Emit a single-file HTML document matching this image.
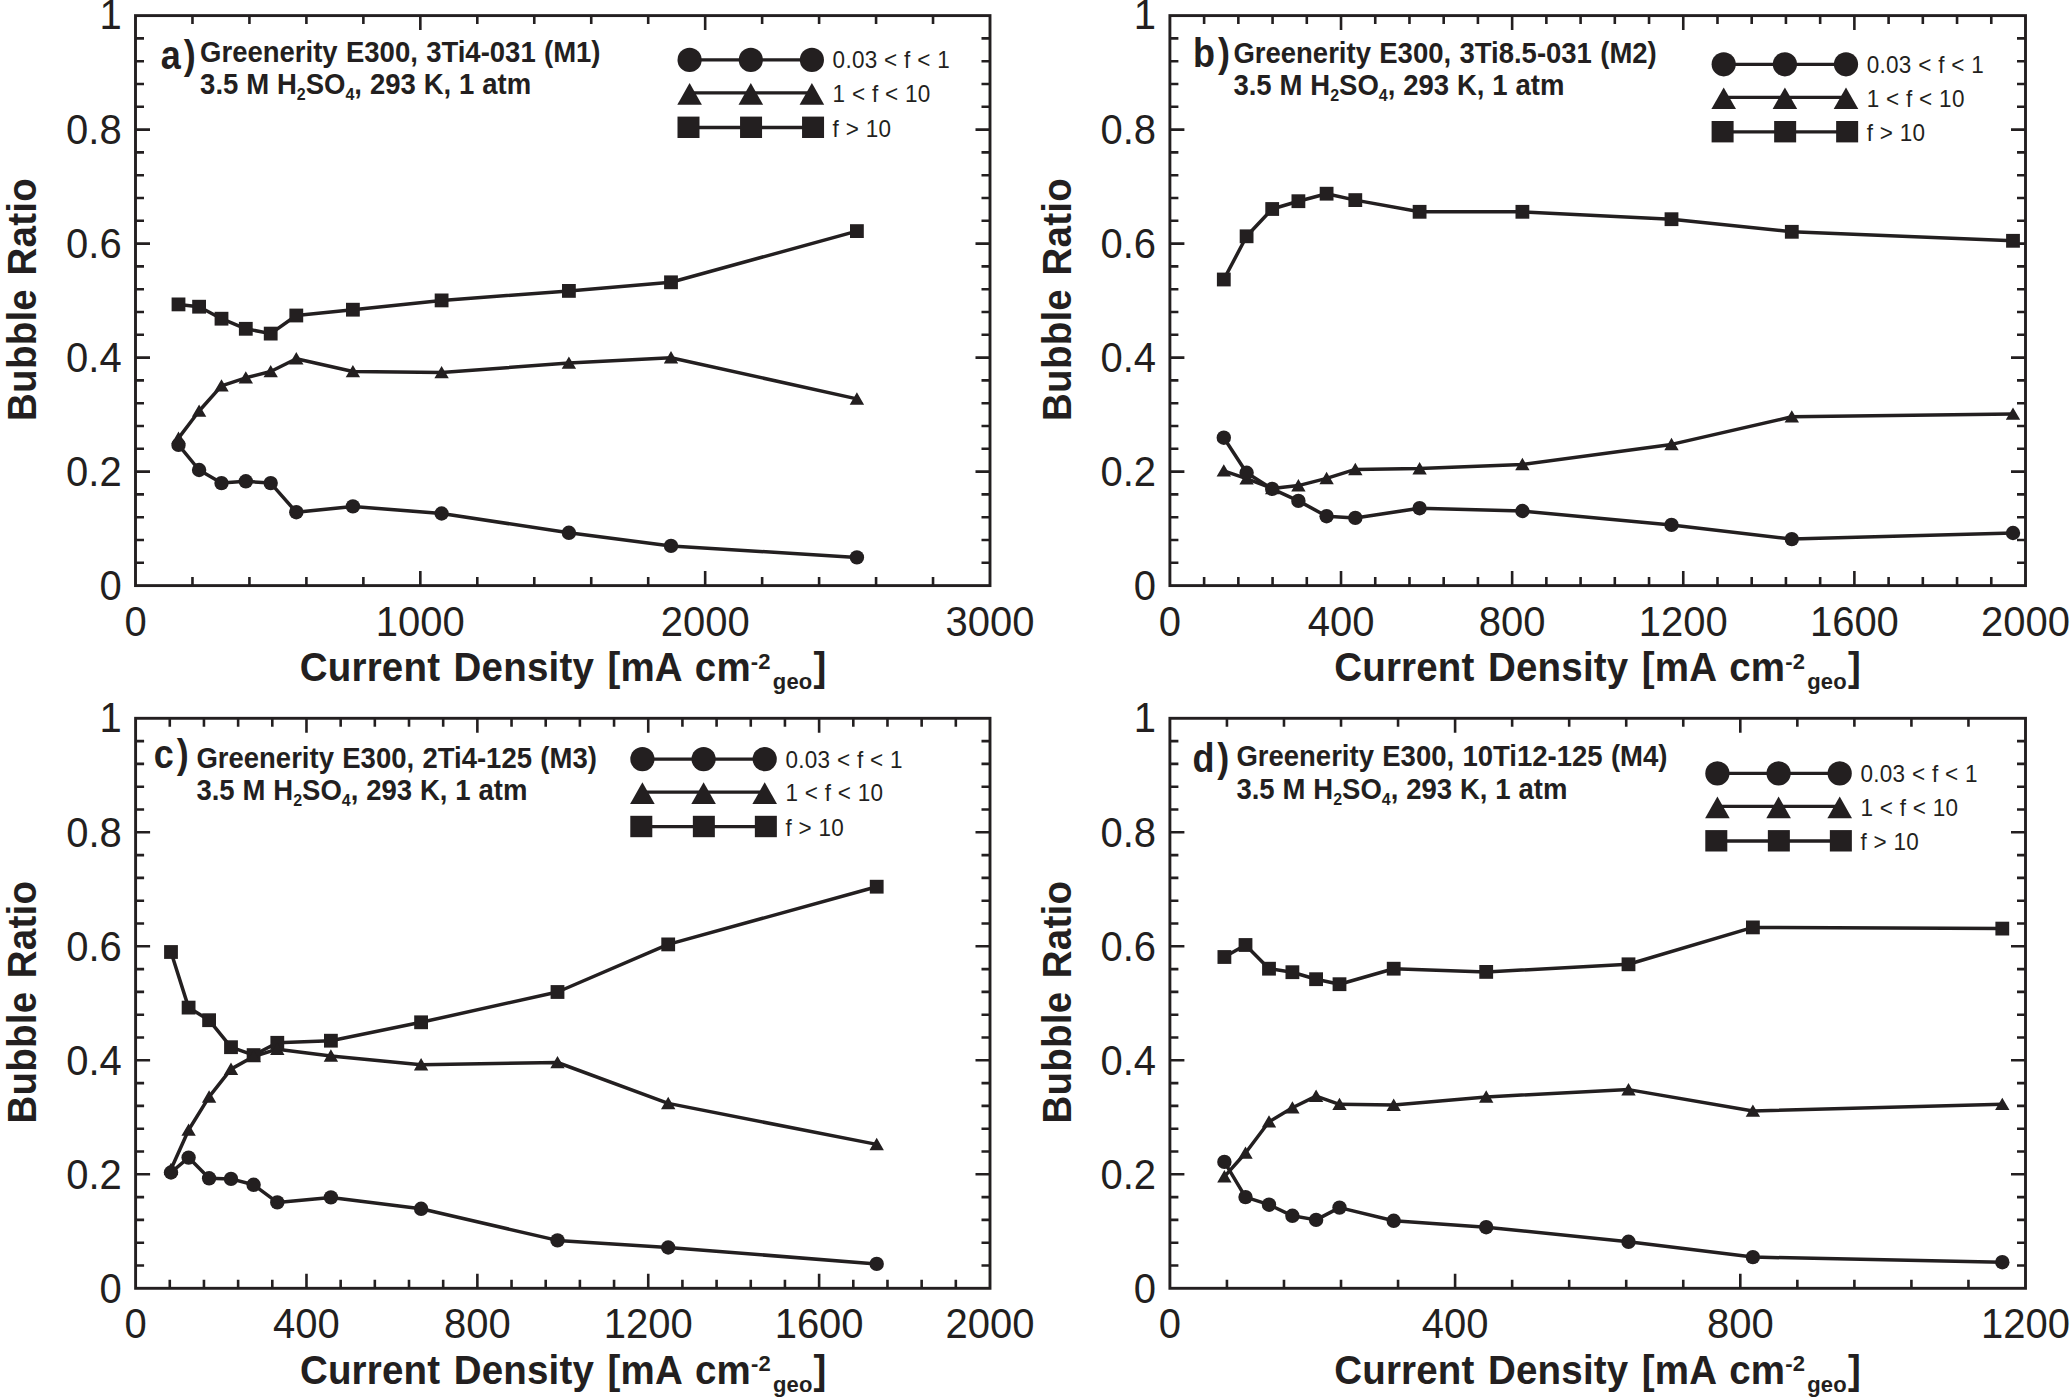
<!DOCTYPE html>
<html lang="en">
<head>
<meta charset="utf-8">
<title>Bubble Ratio vs Current Density</title>
<style>
html,body{margin:0;padding:0;background:#fff;}
body{width:2070px;height:1400px;overflow:hidden;}
svg{display:block;}
svg text{font-family:'Liberation Sans', Arial, Helvetica, sans-serif;fill:#231f20;}
</style>
</head>
<body>
<svg width="2070" height="1400" viewBox="0 0 2070 1400" fill="#231f20">
<rect x="0" y="0" width="2070" height="1400" fill="#ffffff"/>
<g id="plot-a">
<path d="M135.5 562.8h8.5M990 562.8h-8.5M135.5 540h8.5M990 540h-8.5M135.5 517.2h8.5M990 517.2h-8.5M135.5 494.4h8.5M990 494.4h-8.5M135.5 471.6h14.5M990 471.6h-14.5M135.5 448.8h8.5M990 448.8h-8.5M135.5 426h8.5M990 426h-8.5M135.5 403.2h8.5M990 403.2h-8.5M135.5 380.4h8.5M990 380.4h-8.5M135.5 357.6h14.5M990 357.6h-14.5M135.5 334.8h8.5M990 334.8h-8.5M135.5 312h8.5M990 312h-8.5M135.5 289.2h8.5M990 289.2h-8.5M135.5 266.4h8.5M990 266.4h-8.5M135.5 243.6h14.5M990 243.6h-14.5M135.5 220.8h8.5M990 220.8h-8.5M135.5 198h8.5M990 198h-8.5M135.5 175.2h8.5M990 175.2h-8.5M135.5 152.4h8.5M990 152.4h-8.5M135.5 129.6h14.5M990 129.6h-14.5M135.5 106.8h8.5M990 106.8h-8.5M135.5 84h8.5M990 84h-8.5M135.5 61.2h8.5M990 61.2h-8.5M135.5 38.4h8.5M990 38.4h-8.5M192.47 585.6v-8.5M192.47 15.6v8.5M249.43 585.6v-8.5M249.43 15.6v8.5M306.4 585.6v-8.5M306.4 15.6v8.5M363.37 585.6v-8.5M363.37 15.6v8.5M420.33 585.6v-14.5M420.33 15.6v14.5M477.3 585.6v-8.5M477.3 15.6v8.5M534.27 585.6v-8.5M534.27 15.6v8.5M591.23 585.6v-8.5M591.23 15.6v8.5M648.2 585.6v-8.5M648.2 15.6v8.5M705.17 585.6v-14.5M705.17 15.6v14.5M762.13 585.6v-8.5M762.13 15.6v8.5M819.1 585.6v-8.5M819.1 15.6v8.5M876.07 585.6v-8.5M876.07 15.6v8.5M933.03 585.6v-8.5M933.03 15.6v8.5" fill="none" stroke="#231f20" stroke-width="2.6"/>
<rect x="135.5" y="15.6" width="854.5" height="570" fill="none" stroke="#231f20" stroke-width="2.9"/>
<g font-size="40" text-anchor="end">
<text transform="translate(121.7 599.9) scale(1 1.04)">0</text>
<text transform="translate(121.7 485.9) scale(1 1.04)">0.2</text>
<text transform="translate(121.7 371.9) scale(1 1.04)">0.4</text>
<text transform="translate(121.7 257.9) scale(1 1.04)">0.6</text>
<text transform="translate(121.7 143.9) scale(1 1.04)">0.8</text>
<text transform="translate(121.7 29.4) scale(1 1.04)">1</text>
</g>
<g font-size="40" text-anchor="middle">
<text transform="translate(135.5 635.7) scale(1 1.04)">0</text>
<text transform="translate(420.33 635.7) scale(1 1.04)">1000</text>
<text transform="translate(705.17 635.7) scale(1 1.04)">2000</text>
<text transform="translate(990 635.7) scale(1 1.04)">3000</text>
</g>
<text transform="translate(299.8 681.3) scale(1 1.04)" font-size="38.5" font-weight="bold" letter-spacing="0.2" word-spacing="2.5">Current Density [mA cm<tspan font-size="22" dy="-12.31">-2</tspan><tspan font-size="22" dy="20" dx="2">geo</tspan><tspan dy="-7.69" dx="1">]</tspan></text>
<text transform="translate(36.2 299.5) rotate(-90) scale(1 1.04)" font-size="38.5" font-weight="bold" text-anchor="middle" letter-spacing="0.25" word-spacing="2.5">Bubble Ratio</text>
<text transform="translate(160.8 69.2) scale(0.9 1)" font-size="40" font-weight="bold">a<tspan dx="3.3">)</tspan></text>
<g font-size="27.5" font-weight="bold">
<text transform="translate(200.1 62.3) scale(1 1.04)" word-spacing="0.7">Greenerity E300, 3Ti4-031 (M1)</text>
<text transform="translate(200.1 94.1) scale(1 1.04)" word-spacing="0.25">3.5 M H<tspan font-size="16" dy="5.77">2</tspan><tspan dy="-5.77">SO</tspan><tspan font-size="16" dy="5.77">4</tspan><tspan dy="-5.77">, 293 K, 1 atm</tspan></text>
</g>
<g id="legend-a">
<path d="M689.6 59.9H811.9M689.6 92.9H811.9M689.6 127.5H811.9" fill="none" stroke="#231f20" stroke-width="3.3"/>
<circle cx="689.6" cy="59.9" r="12.1"/>
<path d="M689.6 83.1L701.9 104.7L677.3 104.7Z"/>
<rect x="677.5" y="116.6" width="22" height="21.4"/>
<circle cx="750.8" cy="59.9" r="12.1"/>
<path d="M750.8 83.1L763.1 104.7L738.5 104.7Z"/>
<rect x="740.05" y="116.6" width="22" height="21.4"/>
<circle cx="811.9" cy="59.9" r="12.1"/>
<path d="M811.9 83.1L824.2 104.7L799.6 104.7Z"/>
<rect x="802.05" y="116.6" width="22" height="21.4"/>
<g font-size="22.5" letter-spacing="0.3">
<text transform="translate(832.6 68.4) scale(1 1.04)">0.03 &lt; f &lt; 1</text>
<text transform="translate(832.6 102.1) scale(1 1.04)">1 &lt; f &lt; 10</text>
<text transform="translate(832.6 136.5) scale(1 1.04)">f &gt; 10</text>
</g></g>
<polyline points="178.5,304.4 199.1,306.7 221.5,318.7 245.8,328.8 270.7,333.6 296.3,315.5 352.9,309.7 441.6,300.4 568.9,290.9 671,282.3 856.9,231.1" fill="none" stroke="#231f20" stroke-width="3.5" stroke-linejoin="round"/>
<polyline points="178.5,438.1 199.1,411 221.5,385.8 245.8,377.8 270.7,371.5 296.3,358.7 352.9,371.5 441.6,372.5 568.9,363 671,357.7 856.9,398.9" fill="none" stroke="#231f20" stroke-width="3.5" stroke-linejoin="round"/>
<polyline points="178.5,444.9 199.1,470 221.5,483.1 245.8,481.3 270.7,483.1 296.3,512.2 352.9,506.4 441.6,513.5 568.9,532.8 671,545.9 856.9,557.4" fill="none" stroke="#231f20" stroke-width="3.5" stroke-linejoin="round"/>
<rect x="171.6" y="297.5" width="13.8" height="13.8"/>
<rect x="192.2" y="299.8" width="13.8" height="13.8"/>
<rect x="214.6" y="311.8" width="13.8" height="13.8"/>
<rect x="238.9" y="321.9" width="13.8" height="13.8"/>
<rect x="263.8" y="326.7" width="13.8" height="13.8"/>
<rect x="289.4" y="308.6" width="13.8" height="13.8"/>
<rect x="346" y="302.8" width="13.8" height="13.8"/>
<rect x="434.7" y="293.5" width="13.8" height="13.8"/>
<rect x="562" y="284" width="13.8" height="13.8"/>
<rect x="664.1" y="275.4" width="13.8" height="13.8"/>
<rect x="850" y="224.2" width="13.8" height="13.8"/>
<path d="M178.5 431.5L185.7 443.9L171.3 443.9ZM199.1 404.4L206.3 416.8L191.9 416.8ZM221.5 379.2L228.7 391.6L214.3 391.6ZM245.8 371.2L253 383.6L238.6 383.6ZM270.7 364.9L277.9 377.3L263.5 377.3ZM296.3 352.1L303.5 364.5L289.1 364.5ZM352.9 364.9L360.1 377.3L345.7 377.3ZM441.6 365.9L448.8 378.3L434.4 378.3ZM568.9 356.4L576.1 368.8L561.7 368.8ZM671 351.1L678.2 363.5L663.8 363.5ZM856.9 392.3L864.1 404.7L849.7 404.7Z"/>
<circle cx="178.5" cy="444.9" r="7.2"/>
<circle cx="199.1" cy="470" r="7.2"/>
<circle cx="221.5" cy="483.1" r="7.2"/>
<circle cx="245.8" cy="481.3" r="7.2"/>
<circle cx="270.7" cy="483.1" r="7.2"/>
<circle cx="296.3" cy="512.2" r="7.2"/>
<circle cx="352.9" cy="506.4" r="7.2"/>
<circle cx="441.6" cy="513.5" r="7.2"/>
<circle cx="568.9" cy="532.8" r="7.2"/>
<circle cx="671" cy="545.9" r="7.2"/>
<circle cx="856.9" cy="557.4" r="7.2"/>
</g>
<g id="plot-b">
<path d="M1169.9 562.8h8.5M2025.5 562.8h-8.5M1169.9 540h8.5M2025.5 540h-8.5M1169.9 517.2h8.5M2025.5 517.2h-8.5M1169.9 494.4h8.5M2025.5 494.4h-8.5M1169.9 471.6h14.5M2025.5 471.6h-14.5M1169.9 448.8h8.5M2025.5 448.8h-8.5M1169.9 426h8.5M2025.5 426h-8.5M1169.9 403.2h8.5M2025.5 403.2h-8.5M1169.9 380.4h8.5M2025.5 380.4h-8.5M1169.9 357.6h14.5M2025.5 357.6h-14.5M1169.9 334.8h8.5M2025.5 334.8h-8.5M1169.9 312h8.5M2025.5 312h-8.5M1169.9 289.2h8.5M2025.5 289.2h-8.5M1169.9 266.4h8.5M2025.5 266.4h-8.5M1169.9 243.6h14.5M2025.5 243.6h-14.5M1169.9 220.8h8.5M2025.5 220.8h-8.5M1169.9 198h8.5M2025.5 198h-8.5M1169.9 175.2h8.5M2025.5 175.2h-8.5M1169.9 152.4h8.5M2025.5 152.4h-8.5M1169.9 129.6h14.5M2025.5 129.6h-14.5M1169.9 106.8h8.5M2025.5 106.8h-8.5M1169.9 84h8.5M2025.5 84h-8.5M1169.9 61.2h8.5M2025.5 61.2h-8.5M1169.9 38.4h8.5M2025.5 38.4h-8.5M1204.12 585.6v-8.5M1204.12 15.6v8.5M1238.35 585.6v-8.5M1238.35 15.6v8.5M1272.57 585.6v-8.5M1272.57 15.6v8.5M1306.8 585.6v-8.5M1306.8 15.6v8.5M1341.02 585.6v-14.5M1341.02 15.6v14.5M1375.24 585.6v-8.5M1375.24 15.6v8.5M1409.47 585.6v-8.5M1409.47 15.6v8.5M1443.69 585.6v-8.5M1443.69 15.6v8.5M1477.92 585.6v-8.5M1477.92 15.6v8.5M1512.14 585.6v-14.5M1512.14 15.6v14.5M1546.36 585.6v-8.5M1546.36 15.6v8.5M1580.59 585.6v-8.5M1580.59 15.6v8.5M1614.81 585.6v-8.5M1614.81 15.6v8.5M1649.04 585.6v-8.5M1649.04 15.6v8.5M1683.26 585.6v-14.5M1683.26 15.6v14.5M1717.48 585.6v-8.5M1717.48 15.6v8.5M1751.71 585.6v-8.5M1751.71 15.6v8.5M1785.93 585.6v-8.5M1785.93 15.6v8.5M1820.16 585.6v-8.5M1820.16 15.6v8.5M1854.38 585.6v-14.5M1854.38 15.6v14.5M1888.6 585.6v-8.5M1888.6 15.6v8.5M1922.83 585.6v-8.5M1922.83 15.6v8.5M1957.05 585.6v-8.5M1957.05 15.6v8.5M1991.28 585.6v-8.5M1991.28 15.6v8.5" fill="none" stroke="#231f20" stroke-width="2.6"/>
<rect x="1169.9" y="15.6" width="855.6" height="570" fill="none" stroke="#231f20" stroke-width="2.9"/>
<g font-size="40" text-anchor="end">
<text transform="translate(1156.1 599.9) scale(1 1.04)">0</text>
<text transform="translate(1156.1 485.9) scale(1 1.04)">0.2</text>
<text transform="translate(1156.1 371.9) scale(1 1.04)">0.4</text>
<text transform="translate(1156.1 257.9) scale(1 1.04)">0.6</text>
<text transform="translate(1156.1 143.9) scale(1 1.04)">0.8</text>
<text transform="translate(1156.1 29.4) scale(1 1.04)">1</text>
</g>
<g font-size="40" text-anchor="middle">
<text transform="translate(1169.9 635.7) scale(1 1.04)">0</text>
<text transform="translate(1341.02 635.7) scale(1 1.04)">400</text>
<text transform="translate(1512.14 635.7) scale(1 1.04)">800</text>
<text transform="translate(1683.26 635.7) scale(1 1.04)">1200</text>
<text transform="translate(1854.38 635.7) scale(1 1.04)">1600</text>
<text transform="translate(2025.5 635.7) scale(1 1.04)">2000</text>
</g>
<text transform="translate(1334.2 681.3) scale(1 1.04)" font-size="38.5" font-weight="bold" letter-spacing="0.2" word-spacing="2.5">Current Density [mA cm<tspan font-size="22" dy="-12.31">-2</tspan><tspan font-size="22" dy="20" dx="2">geo</tspan><tspan dy="-7.69" dx="1">]</tspan></text>
<text transform="translate(1070.6 299.5) rotate(-90) scale(1 1.04)" font-size="38.5" font-weight="bold" text-anchor="middle" letter-spacing="0.25" word-spacing="2.5">Bubble Ratio</text>
<text transform="translate(1193 66.6) scale(0.9 1)" font-size="40" font-weight="bold">b<tspan dx="3.3">)</tspan></text>
<g font-size="27.5" font-weight="bold">
<text transform="translate(1233.4 62.5) scale(1 1.04)" word-spacing="0.7">Greenerity E300, 3Ti8.5-031 (M2)</text>
<text transform="translate(1233.4 94.8) scale(1 1.04)" word-spacing="0.25">3.5 M H<tspan font-size="16" dy="5.77">2</tspan><tspan dy="-5.77">SO</tspan><tspan font-size="16" dy="5.77">4</tspan><tspan dy="-5.77">, 293 K, 1 atm</tspan></text>
</g>
<g id="legend-b">
<path d="M1723.7 64.3H1846M1723.7 97.3H1846M1723.7 131.9H1846" fill="none" stroke="#231f20" stroke-width="3.3"/>
<circle cx="1723.7" cy="64.3" r="12.1"/>
<path d="M1723.7 87.5L1736 109.1L1711.4 109.1Z"/>
<rect x="1711.6" y="121" width="22" height="21.4"/>
<circle cx="1784.9" cy="64.3" r="12.1"/>
<path d="M1784.9 87.5L1797.2 109.1L1772.6 109.1Z"/>
<rect x="1774.15" y="121" width="22" height="21.4"/>
<circle cx="1846" cy="64.3" r="12.1"/>
<path d="M1846 87.5L1858.3 109.1L1833.7 109.1Z"/>
<rect x="1836.15" y="121" width="22" height="21.4"/>
<g font-size="22.5" letter-spacing="0.3">
<text transform="translate(1866.7 72.8) scale(1 1.04)">0.03 &lt; f &lt; 1</text>
<text transform="translate(1866.7 106.5) scale(1 1.04)">1 &lt; f &lt; 10</text>
<text transform="translate(1866.7 140.9) scale(1 1.04)">f &gt; 10</text>
</g></g>
<polyline points="1223.8,279.5 1246.6,236.3 1272.2,209 1298.4,201.2 1326.6,193.7 1355.3,200.1 1419.6,211.8 1522.4,211.8 1671.5,219.2 1791.8,231.8 2013,240.8" fill="none" stroke="#231f20" stroke-width="3.5" stroke-linejoin="round"/>
<polyline points="1223.8,470.8 1246.6,478.6 1272.2,488.4 1298.4,485.6 1326.6,478.4 1355.3,469.4 1419.6,468.6 1522.4,464.4 1671.5,444.4 1791.8,416.8 2013,414" fill="none" stroke="#231f20" stroke-width="3.5" stroke-linejoin="round"/>
<polyline points="1223.8,437.7 1246.6,472.8 1272.2,488.9 1298.4,500.9 1326.6,516.2 1355.3,517.9 1419.6,508.2 1522.4,511 1671.5,524.9 1791.8,539.1 2013,533" fill="none" stroke="#231f20" stroke-width="3.5" stroke-linejoin="round"/>
<rect x="1216.9" y="272.6" width="13.8" height="13.8"/>
<rect x="1239.7" y="229.4" width="13.8" height="13.8"/>
<rect x="1265.3" y="202.1" width="13.8" height="13.8"/>
<rect x="1291.5" y="194.3" width="13.8" height="13.8"/>
<rect x="1319.7" y="186.8" width="13.8" height="13.8"/>
<rect x="1348.4" y="193.2" width="13.8" height="13.8"/>
<rect x="1412.7" y="204.9" width="13.8" height="13.8"/>
<rect x="1515.5" y="204.9" width="13.8" height="13.8"/>
<rect x="1664.6" y="212.3" width="13.8" height="13.8"/>
<rect x="1784.9" y="224.9" width="13.8" height="13.8"/>
<rect x="2006.1" y="233.9" width="13.8" height="13.8"/>
<path d="M1223.8 464.2L1231 476.6L1216.6 476.6ZM1246.6 472L1253.8 484.4L1239.4 484.4ZM1272.2 481.8L1279.4 494.2L1265 494.2ZM1298.4 479L1305.6 491.4L1291.2 491.4ZM1326.6 471.8L1333.8 484.2L1319.4 484.2ZM1355.3 462.8L1362.5 475.2L1348.1 475.2ZM1419.6 462L1426.8 474.4L1412.4 474.4ZM1522.4 457.8L1529.6 470.2L1515.2 470.2ZM1671.5 437.8L1678.7 450.2L1664.3 450.2ZM1791.8 410.2L1799 422.6L1784.6 422.6ZM2013 407.4L2020.2 419.8L2005.8 419.8Z"/>
<circle cx="1223.8" cy="437.7" r="7.2"/>
<circle cx="1246.6" cy="472.8" r="7.2"/>
<circle cx="1272.2" cy="488.9" r="7.2"/>
<circle cx="1298.4" cy="500.9" r="7.2"/>
<circle cx="1326.6" cy="516.2" r="7.2"/>
<circle cx="1355.3" cy="517.9" r="7.2"/>
<circle cx="1419.6" cy="508.2" r="7.2"/>
<circle cx="1522.4" cy="511" r="7.2"/>
<circle cx="1671.5" cy="524.9" r="7.2"/>
<circle cx="1791.8" cy="539.1" r="7.2"/>
<circle cx="2013" cy="533" r="7.2"/>
</g>
<g id="plot-c">
<path d="M135.6 1265.5h8.5M990 1265.5h-8.5M135.6 1242.7h8.5M990 1242.7h-8.5M135.6 1219.9h8.5M990 1219.9h-8.5M135.6 1197.1h8.5M990 1197.1h-8.5M135.6 1174.3h14.5M990 1174.3h-14.5M135.6 1151.5h8.5M990 1151.5h-8.5M135.6 1128.7h8.5M990 1128.7h-8.5M135.6 1105.9h8.5M990 1105.9h-8.5M135.6 1083.1h8.5M990 1083.1h-8.5M135.6 1060.3h14.5M990 1060.3h-14.5M135.6 1037.5h8.5M990 1037.5h-8.5M135.6 1014.7h8.5M990 1014.7h-8.5M135.6 991.9h8.5M990 991.9h-8.5M135.6 969.1h8.5M990 969.1h-8.5M135.6 946.3h14.5M990 946.3h-14.5M135.6 923.5h8.5M990 923.5h-8.5M135.6 900.7h8.5M990 900.7h-8.5M135.6 877.9h8.5M990 877.9h-8.5M135.6 855.1h8.5M990 855.1h-8.5M135.6 832.3h14.5M990 832.3h-14.5M135.6 809.5h8.5M990 809.5h-8.5M135.6 786.7h8.5M990 786.7h-8.5M135.6 763.9h8.5M990 763.9h-8.5M135.6 741.1h8.5M990 741.1h-8.5M169.78 1288.3v-8.5M169.78 718.3v8.5M203.95 1288.3v-8.5M203.95 718.3v8.5M238.13 1288.3v-8.5M238.13 718.3v8.5M272.3 1288.3v-8.5M272.3 718.3v8.5M306.48 1288.3v-14.5M306.48 718.3v14.5M340.66 1288.3v-8.5M340.66 718.3v8.5M374.83 1288.3v-8.5M374.83 718.3v8.5M409.01 1288.3v-8.5M409.01 718.3v8.5M443.18 1288.3v-8.5M443.18 718.3v8.5M477.36 1288.3v-14.5M477.36 718.3v14.5M511.54 1288.3v-8.5M511.54 718.3v8.5M545.71 1288.3v-8.5M545.71 718.3v8.5M579.89 1288.3v-8.5M579.89 718.3v8.5M614.06 1288.3v-8.5M614.06 718.3v8.5M648.24 1288.3v-14.5M648.24 718.3v14.5M682.42 1288.3v-8.5M682.42 718.3v8.5M716.59 1288.3v-8.5M716.59 718.3v8.5M750.77 1288.3v-8.5M750.77 718.3v8.5M784.94 1288.3v-8.5M784.94 718.3v8.5M819.12 1288.3v-14.5M819.12 718.3v14.5M853.3 1288.3v-8.5M853.3 718.3v8.5M887.47 1288.3v-8.5M887.47 718.3v8.5M921.65 1288.3v-8.5M921.65 718.3v8.5M955.82 1288.3v-8.5M955.82 718.3v8.5" fill="none" stroke="#231f20" stroke-width="2.6"/>
<rect x="135.6" y="718.3" width="854.4" height="570" fill="none" stroke="#231f20" stroke-width="2.9"/>
<g font-size="40" text-anchor="end">
<text transform="translate(121.8 1302.6) scale(1 1.04)">0</text>
<text transform="translate(121.8 1188.6) scale(1 1.04)">0.2</text>
<text transform="translate(121.8 1074.6) scale(1 1.04)">0.4</text>
<text transform="translate(121.8 960.6) scale(1 1.04)">0.6</text>
<text transform="translate(121.8 846.6) scale(1 1.04)">0.8</text>
<text transform="translate(121.8 732.1) scale(1 1.04)">1</text>
</g>
<g font-size="40" text-anchor="middle">
<text transform="translate(135.6 1338.4) scale(1 1.04)">0</text>
<text transform="translate(306.48 1338.4) scale(1 1.04)">400</text>
<text transform="translate(477.36 1338.4) scale(1 1.04)">800</text>
<text transform="translate(648.24 1338.4) scale(1 1.04)">1200</text>
<text transform="translate(819.12 1338.4) scale(1 1.04)">1600</text>
<text transform="translate(990 1338.4) scale(1 1.04)">2000</text>
</g>
<text transform="translate(299.9 1384) scale(1 1.04)" font-size="38.5" font-weight="bold" letter-spacing="0.2" word-spacing="2.5">Current Density [mA cm<tspan font-size="22" dy="-12.31">-2</tspan><tspan font-size="22" dy="20" dx="2">geo</tspan><tspan dy="-7.69" dx="1">]</tspan></text>
<text transform="translate(36.3 1002.2) rotate(-90) scale(1 1.04)" font-size="38.5" font-weight="bold" text-anchor="middle" letter-spacing="0.25" word-spacing="2.5">Bubble Ratio</text>
<text transform="translate(153.8 768) scale(0.9 1)" font-size="40" font-weight="bold">c<tspan dx="3.3">)</tspan></text>
<g font-size="27.5" font-weight="bold">
<text transform="translate(196.4 768.1) scale(1 1.04)" word-spacing="0.7">Greenerity E300, 2Ti4-125 (M3)</text>
<text transform="translate(196.4 800) scale(1 1.04)" word-spacing="0.25">3.5 M H<tspan font-size="16" dy="5.77">2</tspan><tspan dy="-5.77">SO</tspan><tspan font-size="16" dy="5.77">4</tspan><tspan dy="-5.77">, 293 K, 1 atm</tspan></text>
</g>
<g id="legend-c">
<path d="M642.4 759.1H764.7M642.4 792.1H764.7M642.4 826.7H764.7" fill="none" stroke="#231f20" stroke-width="3.3"/>
<circle cx="642.4" cy="759.1" r="12.1"/>
<path d="M642.4 782.3L654.7 803.9L630.1 803.9Z"/>
<rect x="630.3" y="815.8" width="22" height="21.4"/>
<circle cx="703.6" cy="759.1" r="12.1"/>
<path d="M703.6 782.3L715.9 803.9L691.3 803.9Z"/>
<rect x="692.85" y="815.8" width="22" height="21.4"/>
<circle cx="764.7" cy="759.1" r="12.1"/>
<path d="M764.7 782.3L777 803.9L752.4 803.9Z"/>
<rect x="754.85" y="815.8" width="22" height="21.4"/>
<g font-size="22.5" letter-spacing="0.3">
<text transform="translate(785.4 767.6) scale(1 1.04)">0.03 &lt; f &lt; 1</text>
<text transform="translate(785.4 801.3) scale(1 1.04)">1 &lt; f &lt; 10</text>
<text transform="translate(785.4 835.7) scale(1 1.04)">f &gt; 10</text>
</g></g>
<polyline points="171,952 188.6,1007.6 209.1,1020.2 231,1047.2 253.6,1055.1 277.3,1042.8 330.9,1040.7 421.1,1022.3 557.5,992 668.2,944.4 876.7,886.7" fill="none" stroke="#231f20" stroke-width="3.5" stroke-linejoin="round"/>
<polyline points="171,1169.3 188.6,1130 209.1,1096.9 231,1069.1 253.6,1056.5 277.3,1049.2 330.9,1055.9 421.1,1064.7 557.5,1062.5 668.2,1103.4 876.7,1144.4" fill="none" stroke="#231f20" stroke-width="3.5" stroke-linejoin="round"/>
<polyline points="171,1172.5 188.6,1157.6 209.1,1178.3 231,1178.9 253.6,1184.8 277.3,1202.4 330.9,1197.4 421.1,1208.8 557.5,1240.4 668.2,1247.5 876.7,1263.9" fill="none" stroke="#231f20" stroke-width="3.5" stroke-linejoin="round"/>
<rect x="164.1" y="945.1" width="13.8" height="13.8"/>
<rect x="181.7" y="1000.7" width="13.8" height="13.8"/>
<rect x="202.2" y="1013.3" width="13.8" height="13.8"/>
<rect x="224.1" y="1040.3" width="13.8" height="13.8"/>
<rect x="246.7" y="1048.2" width="13.8" height="13.8"/>
<rect x="270.4" y="1035.9" width="13.8" height="13.8"/>
<rect x="324" y="1033.8" width="13.8" height="13.8"/>
<rect x="414.2" y="1015.4" width="13.8" height="13.8"/>
<rect x="550.6" y="985.1" width="13.8" height="13.8"/>
<rect x="661.3" y="937.5" width="13.8" height="13.8"/>
<rect x="869.8" y="879.8" width="13.8" height="13.8"/>
<path d="M171 1162.7L178.2 1175.1L163.8 1175.1ZM188.6 1123.4L195.8 1135.8L181.4 1135.8ZM209.1 1090.3L216.3 1102.7L201.9 1102.7ZM231 1062.5L238.2 1074.9L223.8 1074.9ZM253.6 1049.9L260.8 1062.3L246.4 1062.3ZM277.3 1042.6L284.5 1055L270.1 1055ZM330.9 1049.3L338.1 1061.7L323.7 1061.7ZM421.1 1058.1L428.3 1070.5L413.9 1070.5ZM557.5 1055.9L564.7 1068.3L550.3 1068.3ZM668.2 1096.8L675.4 1109.2L661 1109.2ZM876.7 1137.8L883.9 1150.2L869.5 1150.2Z"/>
<circle cx="171" cy="1172.5" r="7.2"/>
<circle cx="188.6" cy="1157.6" r="7.2"/>
<circle cx="209.1" cy="1178.3" r="7.2"/>
<circle cx="231" cy="1178.9" r="7.2"/>
<circle cx="253.6" cy="1184.8" r="7.2"/>
<circle cx="277.3" cy="1202.4" r="7.2"/>
<circle cx="330.9" cy="1197.4" r="7.2"/>
<circle cx="421.1" cy="1208.8" r="7.2"/>
<circle cx="557.5" cy="1240.4" r="7.2"/>
<circle cx="668.2" cy="1247.5" r="7.2"/>
<circle cx="876.7" cy="1263.9" r="7.2"/>
</g>
<g id="plot-d">
<path d="M1169.9 1265.5h8.5M2025.5 1265.5h-8.5M1169.9 1242.7h8.5M2025.5 1242.7h-8.5M1169.9 1219.9h8.5M2025.5 1219.9h-8.5M1169.9 1197.1h8.5M2025.5 1197.1h-8.5M1169.9 1174.3h14.5M2025.5 1174.3h-14.5M1169.9 1151.5h8.5M2025.5 1151.5h-8.5M1169.9 1128.7h8.5M2025.5 1128.7h-8.5M1169.9 1105.9h8.5M2025.5 1105.9h-8.5M1169.9 1083.1h8.5M2025.5 1083.1h-8.5M1169.9 1060.3h14.5M2025.5 1060.3h-14.5M1169.9 1037.5h8.5M2025.5 1037.5h-8.5M1169.9 1014.7h8.5M2025.5 1014.7h-8.5M1169.9 991.9h8.5M2025.5 991.9h-8.5M1169.9 969.1h8.5M2025.5 969.1h-8.5M1169.9 946.3h14.5M2025.5 946.3h-14.5M1169.9 923.5h8.5M2025.5 923.5h-8.5M1169.9 900.7h8.5M2025.5 900.7h-8.5M1169.9 877.9h8.5M2025.5 877.9h-8.5M1169.9 855.1h8.5M2025.5 855.1h-8.5M1169.9 832.3h14.5M2025.5 832.3h-14.5M1169.9 809.5h8.5M2025.5 809.5h-8.5M1169.9 786.7h8.5M2025.5 786.7h-8.5M1169.9 763.9h8.5M2025.5 763.9h-8.5M1169.9 741.1h8.5M2025.5 741.1h-8.5M1226.94 1288.3v-8.5M1226.94 718.3v8.5M1283.98 1288.3v-8.5M1283.98 718.3v8.5M1341.02 1288.3v-8.5M1341.02 718.3v8.5M1398.06 1288.3v-8.5M1398.06 718.3v8.5M1455.1 1288.3v-14.5M1455.1 718.3v14.5M1512.14 1288.3v-8.5M1512.14 718.3v8.5M1569.18 1288.3v-8.5M1569.18 718.3v8.5M1626.22 1288.3v-8.5M1626.22 718.3v8.5M1683.26 1288.3v-8.5M1683.26 718.3v8.5M1740.3 1288.3v-14.5M1740.3 718.3v14.5M1797.34 1288.3v-8.5M1797.34 718.3v8.5M1854.38 1288.3v-8.5M1854.38 718.3v8.5M1911.42 1288.3v-8.5M1911.42 718.3v8.5M1968.46 1288.3v-8.5M1968.46 718.3v8.5" fill="none" stroke="#231f20" stroke-width="2.6"/>
<rect x="1169.9" y="718.3" width="855.6" height="570" fill="none" stroke="#231f20" stroke-width="2.9"/>
<g font-size="40" text-anchor="end">
<text transform="translate(1156.1 1302.6) scale(1 1.04)">0</text>
<text transform="translate(1156.1 1188.6) scale(1 1.04)">0.2</text>
<text transform="translate(1156.1 1074.6) scale(1 1.04)">0.4</text>
<text transform="translate(1156.1 960.6) scale(1 1.04)">0.6</text>
<text transform="translate(1156.1 846.6) scale(1 1.04)">0.8</text>
<text transform="translate(1156.1 732.1) scale(1 1.04)">1</text>
</g>
<g font-size="40" text-anchor="middle">
<text transform="translate(1169.9 1338.4) scale(1 1.04)">0</text>
<text transform="translate(1455.1 1338.4) scale(1 1.04)">400</text>
<text transform="translate(1740.3 1338.4) scale(1 1.04)">800</text>
<text transform="translate(2025.5 1338.4) scale(1 1.04)">1200</text>
</g>
<text transform="translate(1334.2 1384) scale(1 1.04)" font-size="38.5" font-weight="bold" letter-spacing="0.2" word-spacing="2.5">Current Density [mA cm<tspan font-size="22" dy="-12.31">-2</tspan><tspan font-size="22" dy="20" dx="2">geo</tspan><tspan dy="-7.69" dx="1">]</tspan></text>
<text transform="translate(1070.6 1002.2) rotate(-90) scale(1 1.04)" font-size="38.5" font-weight="bold" text-anchor="middle" letter-spacing="0.25" word-spacing="2.5">Bubble Ratio</text>
<text transform="translate(1192.4 772.1) scale(0.9 1)" font-size="40" font-weight="bold">d<tspan dx="3.3">)</tspan></text>
<g font-size="27.5" font-weight="bold">
<text transform="translate(1236.4 766.2) scale(1 1.04)" word-spacing="0.7">Greenerity E300, 10Ti12-125 (M4)</text>
<text transform="translate(1236.4 798.7) scale(1 1.04)" word-spacing="0.25">3.5 M H<tspan font-size="16" dy="5.77">2</tspan><tspan dy="-5.77">SO</tspan><tspan font-size="16" dy="5.77">4</tspan><tspan dy="-5.77">, 293 K, 1 atm</tspan></text>
</g>
<g id="legend-d">
<path d="M1717.4 773.4H1839.7M1717.4 806.4H1839.7M1717.4 841H1839.7" fill="none" stroke="#231f20" stroke-width="3.3"/>
<circle cx="1717.4" cy="773.4" r="12.1"/>
<path d="M1717.4 796.6L1729.7 818.2L1705.1 818.2Z"/>
<rect x="1705.3" y="830.1" width="22" height="21.4"/>
<circle cx="1778.6" cy="773.4" r="12.1"/>
<path d="M1778.6 796.6L1790.9 818.2L1766.3 818.2Z"/>
<rect x="1767.85" y="830.1" width="22" height="21.4"/>
<circle cx="1839.7" cy="773.4" r="12.1"/>
<path d="M1839.7 796.6L1852 818.2L1827.4 818.2Z"/>
<rect x="1829.85" y="830.1" width="22" height="21.4"/>
<g font-size="22.5" letter-spacing="0.3">
<text transform="translate(1860.4 781.9) scale(1 1.04)">0.03 &lt; f &lt; 1</text>
<text transform="translate(1860.4 815.6) scale(1 1.04)">1 &lt; f &lt; 10</text>
<text transform="translate(1860.4 850) scale(1 1.04)">f &gt; 10</text>
</g></g>
<polyline points="1224.4,957 1245.5,945 1269,968.7 1292.4,972.2 1316.1,979.2 1339.5,984.2 1393.7,968.7 1486.2,971.9 1628.5,964.3 1752.9,927.4 2002.3,928.6" fill="none" stroke="#231f20" stroke-width="3.5" stroke-linejoin="round"/>
<polyline points="1224.4,1176.6 1245.5,1153 1269,1121.8 1292.4,1107.8 1316.1,1096.1 1339.5,1104.3 1393.7,1105.1 1486.2,1096.9 1628.5,1089.6 1752.9,1111 2002.3,1104.3" fill="none" stroke="#231f20" stroke-width="3.5" stroke-linejoin="round"/>
<polyline points="1224.4,1161.9 1245.5,1197.1 1269,1204.7 1292.4,1215.8 1316.1,1219.9 1339.5,1207.6 1393.7,1220.8 1486.2,1227.2 1628.5,1241.8 1752.9,1257.1 2002.3,1262.2" fill="none" stroke="#231f20" stroke-width="3.5" stroke-linejoin="round"/>
<rect x="1217.5" y="950.1" width="13.8" height="13.8"/>
<rect x="1238.6" y="938.1" width="13.8" height="13.8"/>
<rect x="1262.1" y="961.8" width="13.8" height="13.8"/>
<rect x="1285.5" y="965.3" width="13.8" height="13.8"/>
<rect x="1309.2" y="972.3" width="13.8" height="13.8"/>
<rect x="1332.6" y="977.3" width="13.8" height="13.8"/>
<rect x="1386.8" y="961.8" width="13.8" height="13.8"/>
<rect x="1479.3" y="965" width="13.8" height="13.8"/>
<rect x="1621.6" y="957.4" width="13.8" height="13.8"/>
<rect x="1746" y="920.5" width="13.8" height="13.8"/>
<rect x="1995.4" y="921.7" width="13.8" height="13.8"/>
<path d="M1224.4 1170L1231.6 1182.4L1217.2 1182.4ZM1245.5 1146.4L1252.7 1158.8L1238.3 1158.8ZM1269 1115.2L1276.2 1127.6L1261.8 1127.6ZM1292.4 1101.2L1299.6 1113.6L1285.2 1113.6ZM1316.1 1089.5L1323.3 1101.9L1308.9 1101.9ZM1339.5 1097.7L1346.7 1110.1L1332.3 1110.1ZM1393.7 1098.5L1400.9 1110.9L1386.5 1110.9ZM1486.2 1090.3L1493.4 1102.7L1479 1102.7ZM1628.5 1083L1635.7 1095.4L1621.3 1095.4ZM1752.9 1104.4L1760.1 1116.8L1745.7 1116.8ZM2002.3 1097.7L2009.5 1110.1L1995.1 1110.1Z"/>
<circle cx="1224.4" cy="1161.9" r="7.2"/>
<circle cx="1245.5" cy="1197.1" r="7.2"/>
<circle cx="1269" cy="1204.7" r="7.2"/>
<circle cx="1292.4" cy="1215.8" r="7.2"/>
<circle cx="1316.1" cy="1219.9" r="7.2"/>
<circle cx="1339.5" cy="1207.6" r="7.2"/>
<circle cx="1393.7" cy="1220.8" r="7.2"/>
<circle cx="1486.2" cy="1227.2" r="7.2"/>
<circle cx="1628.5" cy="1241.8" r="7.2"/>
<circle cx="1752.9" cy="1257.1" r="7.2"/>
<circle cx="2002.3" cy="1262.2" r="7.2"/>
</g>
</svg>
</body>
</html>
